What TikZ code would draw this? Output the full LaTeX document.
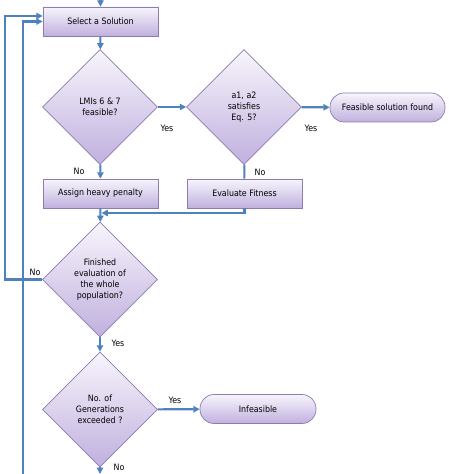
\documentclass[tikz,border=0pt]{standalone}
\usepackage{fontspec}
\setmainfont{DejaVu Sans Condensed}
\usetikzlibrary{shapes.geometric,arrows.meta}

\definecolor{flowblue}{RGB}{79,129,189}
\definecolor{boxline}{RGB}{140,124,176}
\definecolor{boxtop}{RGB}{248,245,252}
\definecolor{boxbottom}{RGB}{192,176,222}

\tikzset{
  process/.style={draw=boxline, line width=1pt, top color=boxtop, bottom color=boxbottom,
    minimum width=57.5mm, minimum height=14.5mm, inner sep=0pt},
  terminal/.style={process, rounded corners=7mm},
  decision/.style={diamond, draw=boxline, line width=1pt, top color=boxtop, bottom color=boxbottom,
    minimum width=57.5mm, minimum height=57.5mm, inner sep=0pt, align=center},
  flow/.style={draw=flowblue, line width=3pt, -{Triangle[length=9pt,width=9pt]}},
  link/.style={draw=flowblue, line width=3pt},
  answer/.style={inner sep=1pt}
}

\begin{document}
\begin{tikzpicture}[x=0.5mm, y=-0.5mm, font=\fontsize{12.5}{15.5}\selectfont]

    \useasboundingbox (0,0) rectangle (474,474);

    \node [process] (select) at (100.5,21.5) {Select a Solution};
    \node [decision] (lmi) at (100,107) {LMIs 6 \& 7\\feasible?};
    \node [decision] (eqfive) at (244,107) {a1, a2\\satisfies\\Eq. 5?};
    \node [terminal] (found) at (387.5,107.5) {Feasible solution found};
    \node [process] (penalty) at (100.5,193.5) {Assign heavy penalty};
    \node [process] (fitness) at (244.5,193.5) {Evaluate Fitness};
    \node [decision] (finished) at (100,279.5) {Finished\\evaluation of\\the whole\\population?};
    \node [decision] (generations) at (100,409.5) {No. of\\Generations\\exceeded ?};
    \node [terminal, minimum width=58mm] (infeasible) at (258,409) {Infeasible};

    \coordinate (start) at (100.5,0);
    \coordinate (join) at (101.5,213);
    \coordinate (outer) at (5,279.5);
    \coordinate (inner) at (23,474);
    \coordinate (exit) at (100,474);

    \draw [flow] (start) -- (select);
    \draw [flow] (select) -- (lmi);
    \draw [flow] (lmi) -- (eqfive);
    \draw [flow] (eqfive) -- (found);
    \draw [flow] (lmi) -- (penalty);
    \draw [link] (eqfive) -- (fitness);
    \draw [flow] (fitness.south) |- (join);
    \draw [flow] (penalty) -- (finished);
    \draw [flow] (finished.west) -- (outer) |- ([yshift=2.75mm]select.west);
    \draw [flow] (finished) -- (generations);
    \draw [flow] (generations) -- (infeasible);
    \draw [flow] (generations) -- (exit);
    \draw [flow] (inner) |- (select.west);

    \node [answer] (yeslmi) at (167,128) {Yes};
    \node [answer] (nolmi) at (79,171) {No};
    \node [answer] (yeseq) at (311,128) {Yes};
    \node [answer] (noeq) at (260,172) {No};
    \node [answer] (nofin) at (35,272) {No};
    \node [answer] (yesfin) at (118,343) {Yes};
    \node [answer] (yesgen) at (175,400) {Yes};
    \node [answer] (nogen) at (119,467) {No};

\end{tikzpicture}
\end{document}
